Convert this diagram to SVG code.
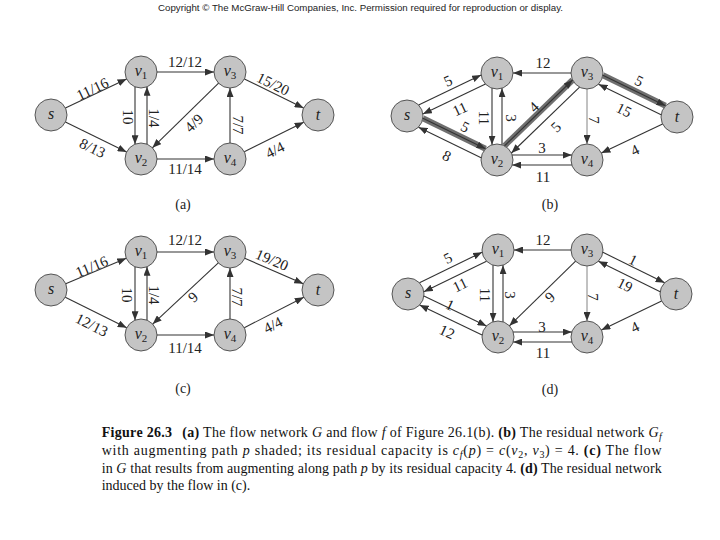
<svg xmlns="http://www.w3.org/2000/svg" width="720" height="540" viewBox="0 0 720 540">
<defs>
<marker id="ah" markerUnits="userSpaceOnUse" markerWidth="9" markerHeight="7" refX="9" refY="3.5" orient="auto"><path d="M0,0 L9,3.5 L0,7 z" fill="#333"/></marker>
<style>
.node circle{fill:#c4c4c4;stroke:#555;stroke-width:1}
.nl{font-family:"Liberation Serif",serif;font-style:italic;font-size:16px;fill:#222;text-anchor:middle}
.sb{font-style:normal;font-size:11px}
.e{stroke:#333;stroke-width:1.1;fill:none;marker-end:url(#ah)}
.thin{stroke:#666;stroke-width:0.8}
.band{stroke:#6f6f6f;stroke-width:6;fill:none}
.lb{font-family:"Liberation Serif",serif;font-size:15px;fill:#222;text-anchor:middle;dominant-baseline:central}
.pl{font-family:"Liberation Serif",serif;font-size:14px;fill:#222;text-anchor:middle}
.cap{font-family:"Liberation Serif",serif;font-size:14px;fill:#111}
.b{font-weight:bold}
.i{font-style:italic}
.hdr{font-family:"Liberation Sans",sans-serif;font-size:8.5px;fill:#222}
</style>
</defs>
<rect width="720" height="540" fill="#fff"/>
<text class="hdr" x="158" y="11" textLength="405" lengthAdjust="spacingAndGlyphs">Copyright © The McGraw-Hill Companies, Inc. Permission required for reproduction or display.</text>

<!-- Panel (a) nodes -->
<g id="a-s" class="node"><circle cx="51" cy="115" r="16"/><text class="nl" x="51" y="119">s</text></g>
<g id="a-v1" class="node"><circle cx="141" cy="72" r="16"/><text class="nl" x="141" y="75.5">v<tspan class="sb" dy="3">1</tspan></text></g>
<g id="a-v3" class="node"><circle cx="230" cy="72" r="16"/><text class="nl" x="230" y="75.5">v<tspan class="sb" dy="3">3</tspan></text></g>
<g id="a-t" class="node"><circle cx="318" cy="115" r="16"/><text class="nl" x="318" y="120">t</text></g>
<g id="a-v2" class="node"><circle cx="141" cy="159" r="16"/><text class="nl" x="141" y="162.5">v<tspan class="sb" dy="3">2</tspan></text></g>
<g id="a-v4" class="node"><circle cx="230" cy="159" r="16"/><text class="nl" x="230" y="162.5">v<tspan class="sb" dy="3">4</tspan></text></g>

<!-- Panel (b) nodes -->
<g id="b-s" class="node"><circle cx="407" cy="116" r="16"/><text class="nl" x="407" y="120">s</text></g>
<g id="b-v1" class="node"><circle cx="497" cy="73" r="16"/><text class="nl" x="497" y="76.5">v<tspan class="sb" dy="3">1</tspan></text></g>
<g id="b-v3" class="node"><circle cx="587" cy="73" r="16"/><text class="nl" x="587" y="76.5">v<tspan class="sb" dy="3">3</tspan></text></g>
<g id="b-t" class="node"><circle cx="677" cy="117" r="16"/><text class="nl" x="677" y="122">t</text></g>
<g id="b-v2" class="node"><circle cx="497" cy="160" r="16"/><text class="nl" x="497" y="163.5">v<tspan class="sb" dy="3">2</tspan></text></g>
<g id="b-v4" class="node"><circle cx="587" cy="160" r="16"/><text class="nl" x="587" y="163.5">v<tspan class="sb" dy="3">4</tspan></text></g>

<!-- Panel (c) nodes -->
<g id="c-s" class="node"><circle cx="51" cy="290" r="16"/><text class="nl" x="51" y="294">s</text></g>
<g id="c-v1" class="node"><circle cx="141" cy="252" r="16"/><text class="nl" x="141" y="255.5">v<tspan class="sb" dy="3">1</tspan></text></g>
<g id="c-v3" class="node"><circle cx="230" cy="252" r="16"/><text class="nl" x="230" y="255.5">v<tspan class="sb" dy="3">3</tspan></text></g>
<g id="c-t" class="node"><circle cx="318" cy="290" r="16"/><text class="nl" x="318" y="295">t</text></g>
<g id="c-v2" class="node"><circle cx="141" cy="335" r="16"/><text class="nl" x="141" y="338.5">v<tspan class="sb" dy="3">2</tspan></text></g>
<g id="c-v4" class="node"><circle cx="230" cy="335" r="16"/><text class="nl" x="230" y="338.5">v<tspan class="sb" dy="3">4</tspan></text></g>

<!-- Panel (d) nodes -->
<g id="d-s" class="node"><circle cx="408" cy="294" r="16"/><text class="nl" x="408" y="298">s</text></g>
<g id="d-v1" class="node"><circle cx="498" cy="250" r="16"/><text class="nl" x="498" y="253.5">v<tspan class="sb" dy="3">1</tspan></text></g>
<g id="d-v3" class="node"><circle cx="587" cy="250" r="16"/><text class="nl" x="587" y="253.5">v<tspan class="sb" dy="3">3</tspan></text></g>
<g id="d-t" class="node"><circle cx="676" cy="294" r="16"/><text class="nl" x="676" y="299">t</text></g>
<g id="d-v2" class="node"><circle cx="498" cy="337" r="16"/><text class="nl" x="498" y="340.5">v<tspan class="sb" dy="3">2</tspan></text></g>
<g id="d-v4" class="node"><circle cx="587" cy="337" r="16"/><text class="nl" x="587" y="340.5">v<tspan class="sb" dy="3">4</tspan></text></g>

<g id="connectors">
<g id="edges-a">
<line class="e" x1="65.4" y1="108.1" x2="126.6" y2="78.9"/>
<line class="e" x1="65.4" y1="122" x2="126.6" y2="152"/>
<line class="e" x1="157" y1="72" x2="214" y2="72"/>
<line class="e" x1="135" y1="86.8" x2="135" y2="144.2"/>
<line class="e" x1="147" y1="144.2" x2="147" y2="86.8"/>
<line class="e" x1="218.6" y1="83.2" x2="152.4" y2="147.8"/>
<line class="e" x1="157" y1="159" x2="214" y2="159"/>
<line class="e" x1="230" y1="143" x2="230" y2="88"/>
<line class="e" x1="244.4" y1="79" x2="303.6" y2="108"/>
<line class="e" x1="244.3" y1="151.8" x2="303.7" y2="122.2"/>
</g>
<g id="edges-b">
<line class="band" x1="422.9" y1="118.2" x2="485.5" y2="148.8"/>
<line class="band" x1="504.5" y1="145.8" x2="572.6" y2="80"/>
<line class="band" x1="602.9" y1="75.2" x2="665.5" y2="105.8"/>
<line class="e" x1="418.6" y1="104.9" x2="481.1" y2="75"/>
<line class="e" x1="485.5" y1="84.1" x2="422.9" y2="114"/>
<line class="e" x1="422.9" y1="118.2" x2="485.5" y2="148.8"/>
<line class="e" x1="481.1" y1="157.8" x2="418.5" y2="127.2"/>
<line class="e" x1="492" y1="88.2" x2="492" y2="144.8"/>
<line class="e" x1="502" y1="144.8" x2="502" y2="88.2"/>
<line class="e" x1="571" y1="73" x2="513" y2="73"/>
<line class="e" x1="504.5" y1="145.8" x2="572.6" y2="80"/>
<line class="e" x1="579.6" y1="87.2" x2="511.4" y2="153"/>
<line class="e thin" x1="587" y1="89" x2="587" y2="144"/>
<line class="e" x1="602.9" y1="75.2" x2="665.5" y2="105.8"/>
<line class="e" x1="661.1" y1="114.8" x2="598.5" y2="84.2"/>
<line class="e" x1="662.6" y1="123.9" x2="601.4" y2="153.1"/>
<line class="e" x1="512.2" y1="155" x2="571.8" y2="155"/>
<line class="e" x1="571.8" y1="165" x2="512.2" y2="165"/>
</g>
<g id="edges-c">
<line class="e" x1="65.7" y1="283.8" x2="126.3" y2="258.2"/>
<line class="e" x1="65.3" y1="297.2" x2="126.7" y2="327.8"/>
<line class="e" x1="157" y1="252" x2="214" y2="252"/>
<line class="e" x1="135" y1="266.8" x2="135" y2="320.2"/>
<line class="e" x1="147" y1="320.2" x2="147" y2="266.8"/>
<line class="e" x1="218.3" y1="262.9" x2="152.7" y2="324.1"/>
<line class="e" x1="157" y1="335" x2="214" y2="335"/>
<line class="e" x1="230" y1="319" x2="230" y2="268"/>
<line class="e" x1="244.7" y1="258.3" x2="303.3" y2="283.7"/>
<line class="e" x1="244.3" y1="327.7" x2="303.8" y2="297.3"/>
</g>
<g id="edges-d">
<line class="e" x1="419.5" y1="282.8" x2="482.1" y2="252.2"/>
<line class="e" x1="486.5" y1="261.2" x2="423.9" y2="291.8"/>
<line class="e" x1="423.9" y1="296" x2="486.5" y2="325.9"/>
<line class="e" x1="482.1" y1="335" x2="419.6" y2="305.1"/>
<line class="e" x1="493" y1="265.2" x2="493" y2="321.8"/>
<line class="e" x1="503" y1="321.8" x2="503" y2="265.2"/>
<line class="e" x1="571" y1="250" x2="514" y2="250"/>
<line class="e" x1="575.6" y1="261.2" x2="509.4" y2="325.8"/>
<line class="e thin" x1="587" y1="266" x2="587" y2="321"/>
<line class="e" x1="602.9" y1="252.3" x2="664.6" y2="282.8"/>
<line class="e" x1="660.2" y1="291.7" x2="598.4" y2="261.2"/>
<line class="e" x1="661.6" y1="301" x2="601.4" y2="330"/>
<line class="e" x1="513.2" y1="332" x2="571.8" y2="332"/>
<line class="e" x1="571.8" y1="342" x2="513.2" y2="342"/>
</g>
</g>

<g id="labels-a">
<text class="lb" x="92.5" y="89" transform="rotate(-25.5 92.5 89)">11/16</text>
<text class="lb" x="92.5" y="148" transform="rotate(26 92.5 148)">8/13</text>
<text class="lb" x="185" y="62">12/12</text>
<text class="lb" x="128" y="117" transform="rotate(90 128 117)">10</text>
<text class="lb" x="154" y="118" transform="rotate(90 154 118)">1/4</text>
<text class="lb" x="194" y="123" transform="rotate(-44 194 123)">4/9</text>
<text class="lb" x="185" y="169">11/14</text>
<text class="lb" x="238" y="125" transform="rotate(90 238 125)">7/7</text>
<text class="lb" x="273" y="84" transform="rotate(26 273 84)">15/20</text>
<text class="lb" x="275" y="150" transform="rotate(-26.6 275 150)">4/4</text>
<text class="pl" x="183" y="209">(a)</text>
</g>
<g id="labels-b">
<text class="lb" x="448" y="81" transform="rotate(-25 448 81)">5</text>
<text class="lb" x="460" y="109" transform="rotate(-25 460 109)">11</text>
<text class="lb" x="465" y="127" transform="rotate(26 465 127)">5</text>
<text class="lb" x="446.7" y="156" transform="rotate(26 446.7 156)">8</text>
<text class="lb" x="484" y="118" transform="rotate(90 484 118)">11</text>
<text class="lb" x="511" y="118" transform="rotate(90 511 118)">3</text>
<text class="lb" x="543" y="63">12</text>
<text class="lb" x="534" y="107" transform="rotate(-44 534 107)">4</text>
<text class="lb" x="556" y="127" transform="rotate(-44 556 127)">5</text>
<text class="lb" x="594" y="120" transform="rotate(90 594 120)">7</text>
<text class="lb" x="639" y="81" transform="rotate(26 639 81)">5</text>
<text class="lb" x="624" y="110" transform="rotate(26 624 110)">15</text>
<text class="lb" x="635" y="150" transform="rotate(-26 635 150)">4</text>
<text class="lb" x="542" y="148">3</text>
<text class="lb" x="543" y="177">11</text>
<text class="pl" x="550" y="209">(b)</text>
</g>
<g id="labels-c">
<text class="lb" x="91.7" y="266.7" transform="rotate(-23 91.7 266.7)">11/16</text>
<text class="lb" x="91.7" y="325" transform="rotate(26.6 91.7 325)">12/13</text>
<text class="lb" x="185" y="240">12/12</text>
<text class="lb" x="127" y="295" transform="rotate(90 127 295)">10</text>
<text class="lb" x="154" y="295" transform="rotate(90 154 295)">1/4</text>
<text class="lb" x="193" y="297" transform="rotate(-43 193 297)">9</text>
<text class="lb" x="185" y="348">11/14</text>
<text class="lb" x="237" y="297" transform="rotate(90 237 297)">7/7</text>
<text class="lb" x="272" y="260" transform="rotate(23 272 260)">19/20</text>
<text class="lb" x="273" y="325" transform="rotate(-27 273 325)">4/4</text>
<text class="pl" x="183" y="393">(c)</text>
</g>
<g id="labels-d">
<text class="lb" x="448" y="258" transform="rotate(-26 448 258)">5</text>
<text class="lb" x="460" y="285" transform="rotate(-26 460 285)">11</text>
<text class="lb" x="450" y="305" transform="rotate(25 450 305)">1</text>
<text class="lb" x="447" y="332" transform="rotate(25 447 332)">12</text>
<text class="lb" x="485" y="295" transform="rotate(90 485 295)">11</text>
<text class="lb" x="510" y="295" transform="rotate(90 510 295)">3</text>
<text class="lb" x="543" y="240">12</text>
<text class="lb" x="550" y="297" transform="rotate(-44 550 297)">9</text>
<text class="lb" x="593" y="297" transform="rotate(90 593 297)">7</text>
<text class="lb" x="633" y="260" transform="rotate(26 633 260)">1</text>
<text class="lb" x="625" y="285" transform="rotate(26 625 285)">19</text>
<text class="lb" x="635" y="327" transform="rotate(-26 635 327)">4</text>
<text class="lb" x="542" y="327">3</text>
<text class="lb" x="543" y="353">11</text>
<text class="pl" x="550" y="394">(d)</text>
</g>

<g id="caption">
<text class="cap" x="101.7" y="437" textLength="560" lengthAdjust="spacing"><tspan class="b">Figure 26.3</tspan><tspan dx="10" class="b">(a)</tspan> The flow network <tspan class="i">G</tspan> and flow <tspan class="i">f</tspan> of Figure 26.1(b). <tspan class="b">(b)</tspan> The residual network <tspan class="i">G</tspan><tspan class="i" font-size="10" dy="3">f</tspan></text>
<text class="cap" x="101.7" y="455" textLength="560" lengthAdjust="spacing">with augmenting path <tspan class="i">p</tspan> shaded; its residual capacity is <tspan class="i">c</tspan><tspan class="i" font-size="10" dy="3">f</tspan><tspan dy="-3">(</tspan><tspan class="i">p</tspan>) = <tspan class="i">c</tspan>(<tspan class="i">v</tspan><tspan font-size="10" dy="3">2</tspan><tspan dy="-3">, </tspan><tspan class="i">v</tspan><tspan font-size="10" dy="3">3</tspan><tspan dy="-3">) = 4. </tspan><tspan class="b">(c)</tspan> The flow</text>
<text class="cap" x="101.7" y="472.5" textLength="560" lengthAdjust="spacing">in <tspan class="i">G</tspan> that results from augmenting along path <tspan class="i">p</tspan> by its residual capacity 4. <tspan class="b">(d)</tspan> The residual network</text>
<text class="cap" x="101.7" y="490">induced by the flow in (c).</text>
</g>
</svg>
